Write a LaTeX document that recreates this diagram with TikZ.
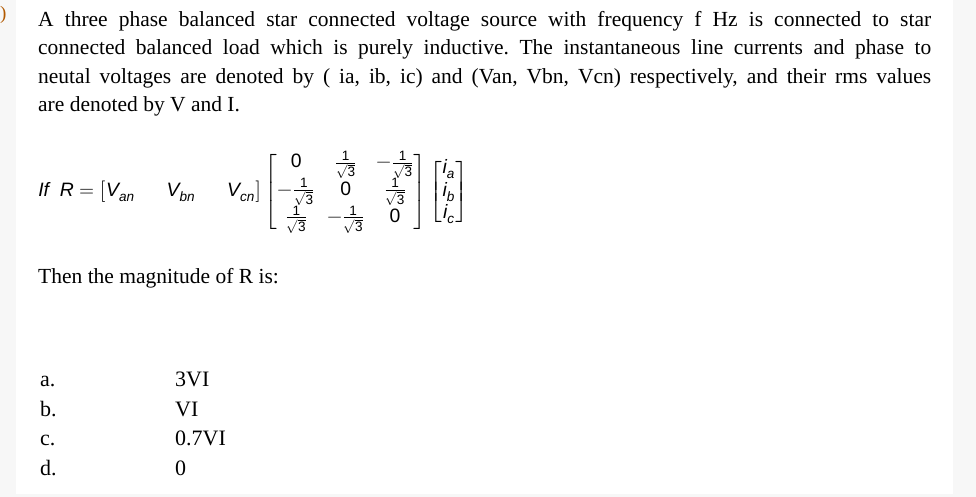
\documentclass[tikz,border=0pt]{standalone}
\usepackage{amsmath}
\usepackage{fontspec}
\usepackage{unicode-math}
\setmainfont{Liberation Serif}
\newfontfamily\arialf{Liberation Sans}
\setmathfont{Latin Modern Math}
\setmathfont[range={up/{latin,num}}]{Liberation Sans}
\newcommand{\sv}[1]{\text{\arialf\itshape #1}}
\usetikzlibrary{positioning}
\frenchspacing

\tikzset{
  body/.style={anchor=north west, inner sep=0pt, font=\fontsize{21.5}{28.5}\selectfont},
  choice/.style={anchor=base west, inner sep=0pt, font=\fontsize{22}{26}\selectfont}
}

\begin{document}
\begin{tikzpicture}[x=1pt, y=-1pt]
\useasboundingbox (0,0) rectangle (976,497);
\fill [black!3] (0,0) rectangle (976,497);
\fill [white] (16,0) rectangle (953,494);
\node [anchor=north west, inner sep=0pt, text=orange!70!black, font=\fontsize{19}{23}\selectfont] (qnum) at (0,6) {)};

% question text
\node [body, text width=893, align=justify] (stem) at (38,11) {
	A three phase balanced star connected voltage source with frequency f Hz is connected to star\linebreak
	connected balanced load which is purely inductive. The instantaneous line currents and phase to\linebreak
	neutal voltages are denoted by ( ia, ib, ic) and (Van, Vbn, Vcn) respectively, and their rms values\linebreak
	are denoted by V and I.};

% matrix expression
\node [anchor=west, inner sep=0pt, scale=1.25, font=\arialf\fontsize{15.5}{18}\selectfont] (expr) at (38,192) {
	$\sv{If}\;\; \sv{R} = \begin{bmatrix} \sv{V}_{\sv{an}} \quad & \sv{V}_{\sv{bn}} \quad & \sv{V}_{\sv{cn}}\end{bmatrix}
	\begin{bmatrix} 0 & \frac{1}{\sqrt3} & -\frac{1}{\sqrt3}\\
	-\frac{1}{\sqrt3} & 0 & \frac{1}{\sqrt3}\\
	\frac{1}{\sqrt3} & -\frac{1}{\sqrt3} & 0 \end{bmatrix}
	\begin{bmatrix} \sv{i}_{\sv{a}}\\ \sv{i}_{\sv{b}}\\ \sv{i}_{\sv{c}}\end{bmatrix}$};

\node [body, anchor=base west] (ask) at (38,283) {Then the magnitude of R is:};

% options
\node [choice] (la) at (40,386) {a.};
\node [choice] (lb) at (40,416) {b.};
\node [choice] (lc) at (40,445) {c.};
\node [choice] (ld) at (40,475) {d.};
\node [choice] (va) at (175,386) {3VI};
\node [choice] (vb) at (175,416) {VI};
\node [choice] (vc) at (175,445) {0.7VI};
\node [choice] (vd) at (175,475) {0};
\end{tikzpicture}
\end{document}
